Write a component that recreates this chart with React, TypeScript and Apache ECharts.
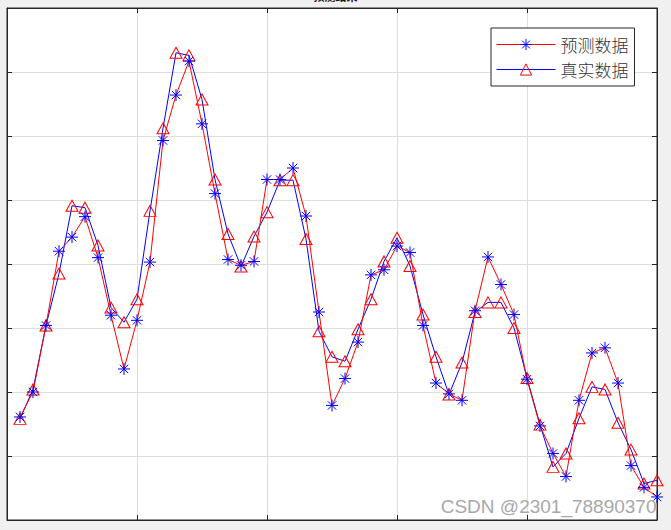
import React, { useEffect, useRef } from "react";
import * as echarts from "echarts";

const legendNames = ["预测数据", "真实数据"];
const xIndex = [
  1, 2, 3, 4, 5, 6, 7, 8, 9, 10, 11, 12, 13, 14, 15, 16, 17, 18, 19, 20, 21, 22, 23, 24, 25,
  26, 27, 28, 29, 30, 31, 32, 33, 34, 35, 36, 37, 38, 39, 40, 41, 42, 43, 44, 45, 46, 47, 48, 49, 50,
];
const predicted = [
  1.61, 2.0, 3.04, 4.2, 4.42, 4.74, 4.1, 3.2, 2.36, 3.12,
  4.03, 5.93, 6.64, 7.17, 6.19, 5.1, 4.07, 3.98, 4.04, 5.32,
  5.32, 5.5, 4.75, 3.25, 1.79, 2.21, 2.78, 3.83, 3.91, 4.28,
  4.18, 3.04, 2.14, 1.97, 1.87, 3.27, 4.11, 3.68, 3.21, 2.2,
  1.47, 1.04, 0.68, 1.87, 2.61, 2.69, 2.14, 0.85, 0.51, 0.36,
];
const actual = [
  1.58, 2.04, 3.04, 3.85, 4.91, 4.88, 4.29, 3.32, 3.09, 3.45,
  4.83, 6.12, 7.3, 7.26, 6.57, 5.32, 4.47, 3.96, 4.43, 4.81,
  5.31, 5.31, 4.39, 2.95, 2.55, 2.48, 2.98, 3.45, 4.04, 4.41,
  3.97, 3.21, 2.55, 1.96, 2.46, 3.25, 3.4, 3.4, 3.0, 2.22,
  1.49, 0.83, 1.04, 1.59, 2.08, 2.04, 1.52, 1.1, 0.57, 0.62,
];
const titleText = "预测结果";
const watermark = "CSDN @2301_78890370";

const STAR = "path://M6 0L6 12M0 6L12 6M1.8 1.8L10.2 10.2M1.8 10.2L10.2 1.8";
const RED = "#ff0000";
const BLUE = "#0000ff";

export default function App() {
  const ref = useRef<HTMLDivElement>(null);
  useEffect(() => {
    if (!ref.current) return;
    const chart = echarts.init(ref.current, null, { renderer: "svg" });
    const frame = "#262626";
    const gridColor = "#dedede";
    const axisCommon = {
      type: "value" as const,
      axisLabel: { show: false },
      axisLine: { show: true, onZero: false, lineStyle: { color: frame, width: 1 } },
      axisTick: { show: true, inside: true, length: 5, lineStyle: { color: frame } },
    };
    chart.setOption({
      animation: false,
      backgroundColor: "#f0f0f0",
      grid: {
        left: 7,
        top: 8,
        width: 650,
        height: 512,
        show: true,
        backgroundColor: "#ffffff",
        borderColor: frame,
        borderWidth: 1,
      },
      xAxis: [
        { ...axisCommon, min: 0, max: 50, interval: 10, position: "bottom",
          splitLine: { show: true, lineStyle: { color: gridColor, width: 1 } } },
        { ...axisCommon, min: 0, max: 50, interval: 10, position: "top", splitLine: { show: false } },
      ],
      yAxis: [
        { ...axisCommon, min: 0, max: 8, interval: 1, position: "left",
          splitLine: { show: true, lineStyle: { color: gridColor, width: 1 } } },
        { ...axisCommon, min: 0, max: 8, interval: 1, position: "right", splitLine: { show: false } },
      ],
      legend: {
        orient: "vertical",
        left: 491,
        top: 28,
        padding: [8, 6, 8, 5],
        itemWidth: 59,
        itemHeight: 14,
        itemGap: 8,
        borderColor: frame,
        borderWidth: 1,
        backgroundColor: "#ffffff",
        borderRadius: 0,
        textStyle: {
          fontSize: 17,
          lineHeight: 14,
          color: "#333333",
          fontFamily: "Noto Sans CJK SC",
          fontWeight: 300,
        },
        data: [
          {
            name: legendNames[0],
            lineStyle: { color: RED, width: 1 },
            itemStyle: { color: "rgba(0,0,0,0)", borderColor: BLUE, borderWidth: 1 },
          },
          {
            name: legendNames[1],
            lineStyle: { color: BLUE, width: 1 },
            itemStyle: { color: "rgba(0,0,0,0)", borderColor: RED, borderWidth: 1 },
          },
        ],
      },
      graphic: [
        {
          type: "text",
          left: "center",
          top: -10,
          style: {
            text: titleText,
            fontSize: 11,
            fontWeight: "bold",
            fill: "#1a1a1a",
            fontFamily: "Noto Sans CJK SC",
          },
        },
        {
          type: "text",
          right: 14,
          top: 496,
          z: 100,
          style: {
            text: watermark,
            fontSize: 19,
            fill: "#a8a8a8",
            stroke: "rgba(255,255,255,0.6)",
            lineWidth: 1,
            fontFamily: "Liberation Sans",
          },
        },
      ],
      series: [
        {
          name: legendNames[0],
          type: "line",
          data: xIndex.map((x, i) => [x, predicted[i]]),
          symbol: STAR,
          symbolSize: 12,
          showAllSymbol: true,
          lineStyle: { color: RED, width: 1 },
          itemStyle: { color: "rgba(0,0,0,0)", borderColor: BLUE, borderWidth: 1 },
          emphasis: { disabled: true },
          z: 3,
        },
        {
          name: legendNames[1],
          type: "line",
          data: xIndex.map((x, i) => [x, actual[i]]),
          symbol: "triangle",
          symbolSize: [12, 11],
          showAllSymbol: true,
          lineStyle: { color: BLUE, width: 1 },
          itemStyle: { color: "rgba(0,0,0,0)", borderColor: RED, borderWidth: 1 },
          emphasis: { disabled: true },
          z: 2,
        },
      ],
    });
    return () => chart.dispose();
  }, []);
  return (
    <div
      ref={ref}
      style={{ position: "fixed", left: 0, top: 0, width: 671, height: 530 }}
    />
  );
}
